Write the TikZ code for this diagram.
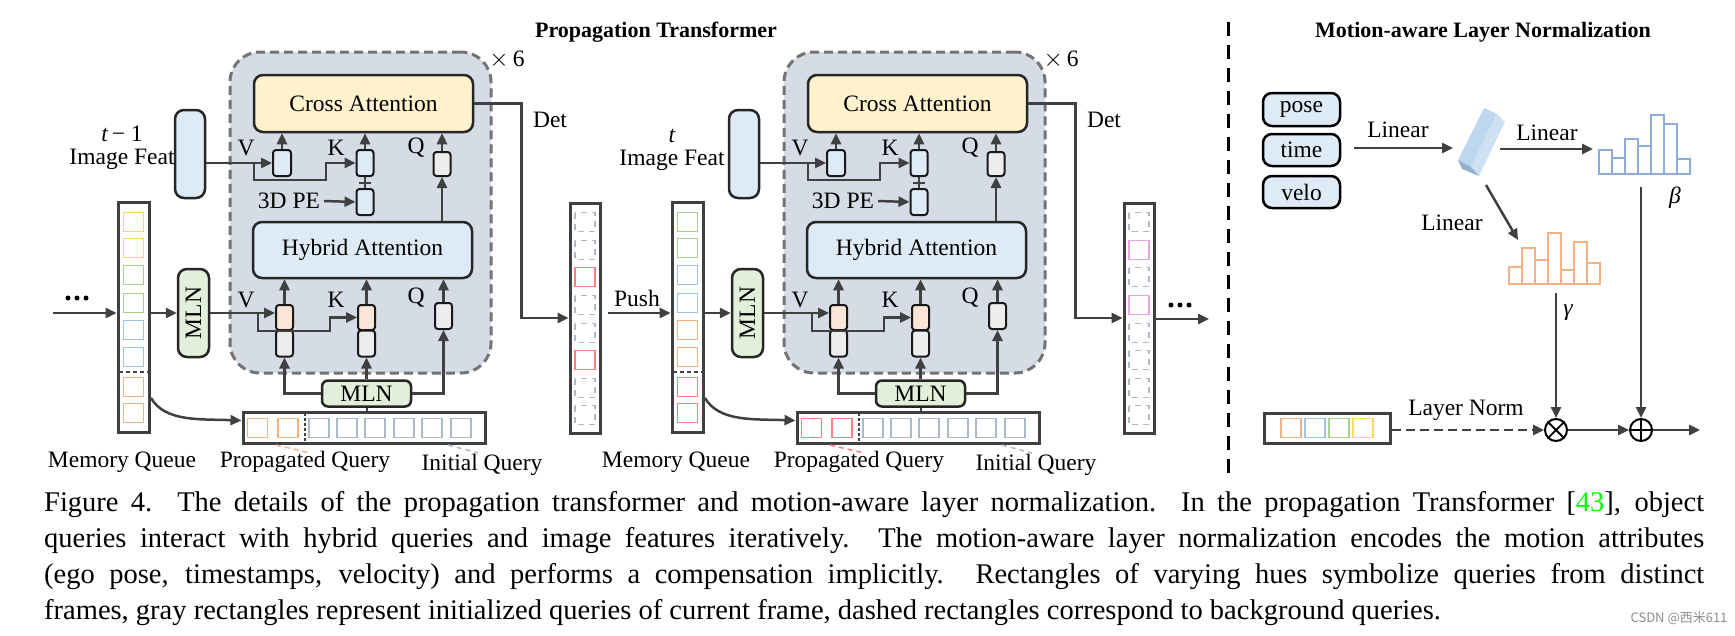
\documentclass[tikz,border=0pt]{standalone}
\usepackage{fontspec}
\setmainfont{Liberation Serif}
\newfontfamily\cjkf{Noto Sans CJK SC}
\usetikzlibrary{arrows.meta,calc}
\definecolor{lc}{HTML}{404040}
\definecolor{dbox}{HTML}{D6DCE5}
\definecolor{cafill}{HTML}{FFF2CC}
\definecolor{bfill}{HTML}{DEEBF7}
\definecolor{gfill}{HTML}{E2F0D9}
\definecolor{grfill}{HTML}{EDEDED}
\definecolor{pfill}{HTML}{FBE5D6}
\definecolor{qy}{HTML}{FFD966}
\definecolor{qg}{HTML}{A9D18E}
\definecolor{qb}{HTML}{9DC3E6}
\definecolor{qo}{HTML}{F4B183}
\definecolor{qr}{HTML}{FF7C80}
\definecolor{qgr}{HTML}{ADB9CA}
\definecolor{qp}{HTML}{E9A3E9}
\definecolor{hb}{HTML}{8FAADC}
\tikzset{
  arr/.style={draw=lc, line width=2.5pt, -{Triangle[length=11pt,width=10pt]}},
  ln/.style={draw=lc, line width=2.5pt},
  blk/.style={draw=black!85, line width=2.5pt, rounded corners=9pt, inner sep=0pt},
  sb/.style={draw=black!90, line width=2pt, rounded corners=3pt, inner sep=0pt, minimum width=17pt, minimum height=26pt},
  bar/.style={draw=lc, line width=3pt, inner sep=0pt},
  lbl/.style={inner sep=0pt, font=\fontsize{23.5}{25}\selectfont},
  qs/.style={line width=1.8pt},
  dot/.style={circle, fill=black, inner sep=0pt, minimum size=5pt},
}
\newcommand\qbox[3]{\draw[qs,#3] ($(#1,#2)+(-10,-9.5)$) rectangle ($(#1,#2)+(10,9.5)$);}
\newcommand\qdash[2]{\draw[qs,qgr,dash pattern=on 6pt off 5pt] ($(#1,#2)+(-10,-9.5)$) rectangle ($(#1,#2)+(10,9.5)$);}
\newcommand\ptblock[3]{%
 \node[draw=black!55, fill=dbox, line width=3pt, dash pattern=on 9pt off 5pt, rounded corners=30pt, minimum width=261pt, minimum height=321pt] (#1box) at (360.5,212.5) {};
 \node[lbl] (#1x6) at (507,60) {$\times$\,6};
 \node[blk, fill=cafill, minimum width=219pt, minimum height=57pt, lbl] (#1ca) at (363.5,103.5) {Cross Attention};
 \node[blk, fill=bfill, minimum width=219pt, minimum height=56pt, lbl] (#1ha) at (362.5,250) {Hybrid Attention};
 \node[blk, fill=bfill, minimum width=30pt, minimum height=88pt] (#1img) at (190,154) {};
 \node[sb, fill=bfill, minimum width=18pt] (#1v1) at (282,163) {};
 \node[sb, fill=bfill] (#1k1) at (365,163) {};
 \node[sb, fill=bfill] (#1k2) at (365,202) {};
 \node[sb, fill=grfill, minimum height=24pt] (#1q1) at (442,164) {};
 \node[lbl] (#1lv1) at (246,148) {V};
 \node[lbl] (#1lk1) at (336,148) {K};
 \node[lbl] (#1lq1) at (416,148) {Q};
 \node[lbl] (#1pe) at (289,201) {3D PE};
 \node[sb, fill=pfill, minimum height=25pt] (#1v2) at (284.5,317.5) {};
 \node[sb, fill=grfill] (#1v3) at (284.5,343.5) {};
 \node[sb, fill=pfill, minimum height=25pt] (#1k3) at (366.5,317.5) {};
 \node[sb, fill=grfill] (#1k4) at (366.5,343.5) {};
 \node[sb, fill=grfill] (#1q2) at (443.5,316) {};
 \node[lbl] (#1lv2) at (246,300) {V};
 \node[lbl] (#1lk2) at (336,300) {K};
 \node[lbl] (#1lq2) at (416,298) {Q};
 \node[blk, fill=gfill, minimum width=31pt, minimum height=88pt] (#1mlnv) at (193.5,313) {\rotatebox{90}{\fontsize{23.5}{25}\selectfont MLN}};
 \node[blk, fill=gfill, minimum width=89pt, minimum height=26pt, rounded corners=6pt, lbl] (#1mln) at (366.5,393.5) {MLN};
 \node[bar, minimum width=31pt, minimum height=230pt] (#1mq) at (133.5,317) {};
 \node[bar, minimum width=242pt, minimum height=31pt] (#1bar) at (364,427.5) {};
 \node[bar, minimum width=30pt, minimum height=230pt] (#1out) at (585,318) {};
 \node[lbl] (#1det) at (550,120) {Det};
 \node[lbl] (#1lmq) at (122,462) {Memory Queue};
 \node[lbl] (#1lpq) at (305,462) {Propagated Query};
 \node[lbl] (#1liq) at (482,465) {Initial Query};
 % arrows
 \draw[arr] (#1v1.north) -- (#1v1.north |- #1ca.south);
 \draw[arr] (#1k1.north) -- (#1k1.north |- #1ca.south);
 \draw[arr] (#1q1.north) -- (#1q1.north |- #1ca.south);
 \draw[arr] (#1q1.south |- #1ha.north) -- (#1q1.south);
 \draw[ln, line width=2pt] (#1k2.north) -- (#1k1.south);
 \draw[ln, line width=2pt] ($(#1k2.north)!0.5!(#1k1.south)+(-6,0)$) -- ++(12,0);
 \draw[arr] (#1pe.east) ++(4,0) -- (#1k2.west);
 \draw[arr] (#1img.east |- #1v1.west) -- (#1v1.west);
 \coordinate (#1b1) at (254,163);
 \draw[arr] (#1b1) |- (326,180) |- (#1k1.west);
 \draw[arr] (#1v2.north) -- (#1v2.north |- #1ha.south);
 \draw[arr] (#1k3.north) -- (#1k3.north |- #1ha.south);
 \draw[arr] (#1q2.north) -- (#1q2.north |- #1ha.south);
 \draw[arr] (#1mq.east |- #1mlnv.west) -- (#1mlnv.west);
 \draw[arr] (#1mlnv.east) -- (#1mlnv.east -| #1v2.west);
 \coordinate (#1b2) at (258,313);
 \draw[arr] (#1b2) |- (330,331) |- (#1k3.west);
 \draw[arr] (#1mln.west) -| (#1v3.south);
 \draw[arr] (#1mln.north) -- (#1k4.south);
 \draw[arr] (#1mln.east) -| (#1q2.south);
 \draw[ln, line width=2pt] (#1mln.south) -- (#1mln.south |- #1bar.north);
 \coordinate (#1cs) at (151,398);
 \draw[arr] (#1cs) .. controls (165,422) and (200,419) .. ($(#1bar.west)+(0,-7)$);
 \draw[arr] (#1ca.east) -| ($(#1out.west)+(-47,0)$) -- (#1out.west);
 % bar contents
 \qbox{257.5}{428}{#3}\qbox{288}{428}{#3}
 \draw[lc, line width=1.5pt, dash pattern=on 3pt off 2pt] (305,413) -- (305,442);
 \foreach \xx in {319,347,375,404,432,461} {\qbox{\xx}{428}{qgr}}
 \draw[#3, line width=1.5pt, dash pattern=on 5pt off 4pt] (276,445) -- (310,453);
 \draw[qgr, line width=1.5pt, dash pattern=on 5pt off 4pt] (448,445) -- (478,453);
}
\begin{document}
\begin{tikzpicture}[x=1pt,y=-1pt]
\useasboundingbox (0,0) rectangle (1735,635);
\node[font=\bfseries\fontsize{22}{24}\selectfont] (t1) at (656,32) {Propagation Transformer};
\node[font=\bfseries\fontsize{22}{24}\selectfont] (t2) at (1483,32) {Motion-aware Layer Normalization};
\draw[black, line width=3pt, dash pattern=on 14pt off 9pt] (1228,22) -- (1228,476);

\begin{scope}
\ptblock{a}{124,148}{qo}
\end{scope}
\node[lbl, align=center] (aimgl) at (122,148) {\itshape t\,\upshape − 1\\[-2pt]Image Feat};
\begin{scope}[shift={(554,0)}]
\ptblock{b}{124,148}{qr}
\end{scope}
\node[lbl, align=center] (bimgl) at (672,150) {\itshape t\\[-2pt]\upshape Image Feat};

% memory queue 1
\foreach \yy/\cc in {222/qy,248/qy,275/qg,303/qg,330/qb,357/qb,387/qo,413/qo} {\qbox{133.5}{\yy}{\cc}}
\draw[lc, line width=1.5pt, dash pattern=on 4pt off 3pt] (119,372) -- (148,372);
% memory queue 2
\foreach \yy/\cc in {222/qg,248/qg,275/qb,303/qb,330/qo,357/qo,387/qr,413/qr} {\qbox{687.5}{\yy}{\cc}}
\draw[lc, line width=1.5pt, dash pattern=on 4pt off 3pt] (673,372) -- (702,372);
% output bar 1
\foreach \yy in {222,250,305,333,388,415} {\qdash{585}{\yy}}
\qbox{585}{277}{qr}\qbox{585}{360}{qr}
% output bar 2
\foreach \yy in {222,277,333,360,388,415} {\qdash{1139}{\yy}}
\qbox{1139}{250}{qp}\qbox{1139}{305}{qp}

% inputs / push / outputs
\coordinate (in1) at (53,313);
\draw[arr] (in1) -- (amq.west |- in1);
\foreach \dx in {-9,0,9} {\node[dot] at (77+\dx,298) {};}
\draw[arr] (aout.east |- in1) ++(6,0) -- (bmq.west |- in1);
\node[lbl] (push) at (637,298) {Push};
\coordinate (out2) at (1209,319);
\draw[arr] (bout.east |- out2) -- (out2);
\foreach \dx in {-9,0,9} {\node[dot] at (1180+\dx,305) {};}

% right panel
\node[blk, fill=bfill, minimum width=77pt, minimum height=33pt, lbl, draw=black] (pose) at (1301.5,109.5) {pose};
\node[blk, fill=bfill, minimum width=77pt, minimum height=32pt, lbl, draw=black] (time) at (1301.5,150) {time};
\node[blk, fill=bfill, minimum width=77pt, minimum height=32pt, lbl, draw=black] (velo) at (1301.5,192) {velo};
\coordinate (lin0) at (1354,148);
\coordinate (slabin) at (1453,148);
\draw[arr] (lin0) -- (slabin);
\node[lbl] (l1) at (1398,130) {Linear};
\fill[fill={rgb,255:red,189;green,215;blue,238}] (1458,160) -- (1484,108) -- (1497,114) -- (1471,167) -- cycle;
\fill[fill={rgb,255:red,205;green,225;blue,243}] (1497,114) -- (1505,122) -- (1479,176) -- (1471,167) -- cycle;
\fill[fill={rgb,255:red,150;green,175;blue,205}] (1458,160) -- (1471,167) -- (1479,176) -- (1462,169) -- cycle;
\coordinate (slabo1) at (1500,149);
\coordinate (slabo2) at (1486,185);
% beta hist
\foreach \i/\t in {0/150,1/158,2/139,3/146,4/115,5/124,6/159} {\draw[hb, line width=2pt] (1599+13*\i,174) rectangle (1612+13*\i,\t);}
\coordinate (bhin) at (1593,149);
\draw[arr] (slabo1) -- (bhin);
\node[lbl] (l2) at (1547,133) {Linear};
\node[lbl] (beta) at (1675,198) {\itshape β};
% gamma hist
\foreach \i/\t in {0/267,1/248,2/260,3/233,4/270,5/242,6/263} {\draw[qo, line width=2pt] (1509+13*\i,284) rectangle (1522+13*\i,\t);}
\coordinate (ghin) at (1518,240);
\draw[arr] (slabo2) -- (ghin);
\node[lbl] (l3) at (1452,223) {Linear};
\node[lbl] (gamma) at (1568,313) {\itshape γ};
% layer norm
\node[bar, minimum width=126pt, minimum height=30pt] (lnbar) at (1327,428) {};
\qbox{1291}{428}{qo}\qbox{1315}{428}{qb}\qbox{1339}{428}{qg}\qbox{1363}{428}{qy}
\node[circle, draw=black, line width=2pt, minimum size=22pt, inner sep=0pt] (otimes) at (1556,430) {};
\draw[black, line width=1.8pt] (otimes.45) -- (otimes.225) (otimes.135) -- (otimes.315);
\node[circle, draw=black, line width=2pt, minimum size=22pt, inner sep=0pt] (oplus) at (1641,430) {};
\draw[black, line width=1.8pt] (oplus.north) -- (oplus.south) (oplus.east) -- (oplus.west);
\draw[arr, dash pattern=on 9pt off 5pt] (lnbar.east |- otimes) -- (otimes.west);
\node[lbl] (lnl) at (1466,410) {Layer Norm};
\draw[arr] (otimes.east) -- (oplus.west);
\coordinate (fin) at (1700,430);
\draw[arr] (oplus.east) -- (fin);
\coordinate (gdown) at (1556,293);
\draw[arr] (gdown) -- (otimes.north);
\coordinate (bdown) at (1641,187);
\draw[arr] (bdown) -- (oplus.north);

% caption
\node[anchor=north west, inner sep=0pt, text width=1660pt, align=justify, font=\fontsize{28.5}{36}\selectfont] (cap) at (44,491) {Figure 4. The details of the propagation transformer and motion-aware layer normalization. In the propagation Transformer [{\color[HTML]{00FF00}43}], object\linebreak queries interact with hybrid queries and image features iteratively. The motion-aware layer normalization encodes the motion attributes\linebreak (ego pose, timestamps, velocity) and performs a compensation implicitly. Rectangles of varying hues symbolize queries from distinct\linebreak frames, gray rectangles represent initialized queries of current frame, dashed rectangles correspond to background queries.};
\node[text=black!45, font=\cjkf\fontsize{13}{15}\selectfont] (wm) at (1679,618) {CSDN @西米611};
\end{tikzpicture}
\end{document}
